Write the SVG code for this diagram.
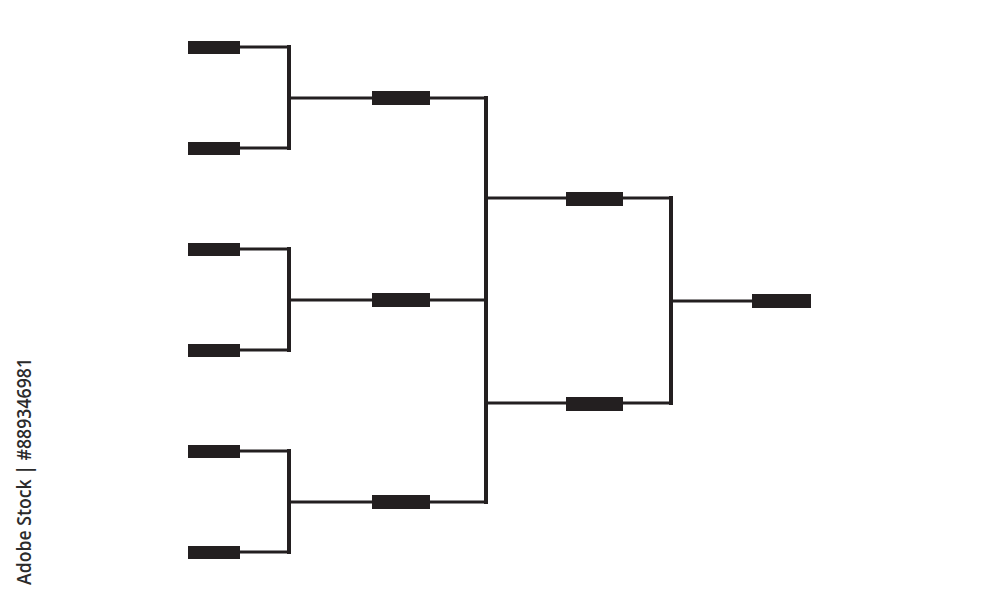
<svg xmlns="http://www.w3.org/2000/svg" width="1000" height="600" viewBox="0 0 1000 600">
<style>
.box{fill:#231f20}
.h{stroke:#231f20;stroke-width:3;fill:none}
.v{stroke:#231f20;stroke-width:4;fill:none;stroke-linecap:square}
.wm{font-family:"Open Sans","DejaVu Sans",sans-serif;font-size:19px;font-weight:600;fill:#2b2b2b}
</style>
<rect width="1000" height="600" fill="#fff"/>
<g id="connectors">
<path class="h" d="M240 47H289M240 148H289M289 98H372M240 249H289M240 350H289M289 300H372M240 451H289M240 552H289M289 502H372"/>
<path class="v" d="M289 47V148M289 249V350M289 451V552"/>
<path class="h" d="M430 98H486M430 300H486M430 502H486M486 198H566M486 403H566M623 198H671M623 403H671M671 301H752"/>
<path class="v" d="M486 98V502M671 198V403"/>
</g>
<g id="r1a"><rect class="box" x="188" y="41" width="52" height="13"/></g>
<g id="r1b"><rect class="box" x="188" y="142" width="52" height="13"/></g>
<g id="r1c"><rect class="box" x="188" y="243" width="52" height="13"/></g>
<g id="r1d"><rect class="box" x="188" y="344" width="52" height="13"/></g>
<g id="r1e"><rect class="box" x="188" y="445" width="52" height="13"/></g>
<g id="r1f"><rect class="box" x="188" y="546" width="52" height="13"/></g>
<g id="r2a"><rect class="box" x="372" y="91" width="58" height="14"/></g>
<g id="r2b"><rect class="box" x="372" y="293" width="58" height="14"/></g>
<g id="r2c"><rect class="box" x="372" y="495" width="58" height="14"/></g>
<g id="r3a"><rect class="box" x="566" y="192" width="57" height="14"/></g>
<g id="r3b"><rect class="box" x="566" y="397" width="57" height="14"/></g>
<g id="final"><rect class="box" x="752" y="294" width="59" height="14"/></g>
<text class="wm" transform="translate(31,585) rotate(-90)" textLength="227" lengthAdjust="spacingAndGlyphs">Adobe Stock | #889346981</text>
</svg>
